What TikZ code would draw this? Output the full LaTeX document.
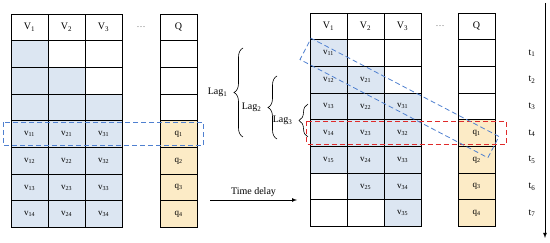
\documentclass[tikz,border=0pt]{standalone}
\usepackage{fontspec}
\setmainfont{Liberation Serif}
\usetikzlibrary{decorations.pathreplacing,calc}
\definecolor{cellblue}{HTML}{DCE6F2}
\definecolor{cellyellow}{HTML}{FCEBC6}
\definecolor{boxblue}{HTML}{4F80D0}
\definecolor{boxred}{HTML}{E02A2A}
\begin{document}
\begin{tikzpicture}[
    x=1pt, y=-1pt,
    >=latex,
    every node/.style={font=\normalsize},
    cell/.style={
        draw, line width=0.8pt,
        minimum width=37pt, minimum height=26.7pt,
        inner sep=0pt, font=\small
    },
    headcell/.style={cell, font=\normalsize},
    vcell/.style={cell, fill=cellblue},
    qcell/.style={cell, fill=cellyellow},
    dotslbl/.style={font=\small, text=black!60},
    lagbox/.style={line width=0.8pt, dash pattern=on 5pt off 3pt},
    lagbrace/.style={decorate, decoration={brace, amplitude=9pt}, line width=0.6pt}
]
\useasboundingbox (0,0) rectangle (550,243);

% =========================================================
% Linke Tabelle
% =========================================================
\foreach \c in {1,2,3}
    \node[headcell] (lv-0-\c) at ({11+37*(\c-0.5)}, 27.35) {V\textsubscript{\c}};
\node[headcell] (lq-0) at (178.5, 27.35) {Q};
\node[dotslbl] (ldots) at (141, 27.35) {\dots};

\foreach \r in {1,...,7}
    \foreach \c in {1,2,3} {
        \pgfmathtruncatemacro{\k}{\r-3}
        \ifnum\c>\r
            \node[cell] (lv-\r-\c) at ({11+37*(\c-0.5)}, {27.35+26.7*\r}) {};
        \else\ifnum\k<1
            \node[vcell] (lv-\r-\c) at ({11+37*(\c-0.5)}, {27.35+26.7*\r}) {};
        \else
            \node[vcell] (lv-\r-\c) at ({11+37*(\c-0.5)}, {27.35+26.7*\r}) {v\textsubscript{\c\k}};
        \fi\fi
    }

\foreach \r in {1,2,3}
    \node[cell] (lq-\r) at (178.5, {27.35+26.7*\r}) {};
\foreach \r in {4,...,7} {
    \pgfmathtruncatemacro{\k}{\r-3}
    \node[qcell] (lq-\r) at (178.5, {27.35+26.7*\r}) {q\textsubscript{\k}};
}

% Zeile t4 links
\draw[lagbox, boxblue] ($(lv-4-1.west)+(-7,-12)$) rectangle ($(lq-4.east)+(6,11.5)$);

% =========================================================
% Rechte Tabelle (verschoben)
% =========================================================
\foreach \c in {1,2,3}
    \node[headcell] (rv-0-\c) at ({310+37*(\c-0.5)}, 26.35) {V\textsubscript{\c}};
\node[headcell] (rq-0) at (476.5, 26.35) {Q};
\node[dotslbl] (rdots) at (440, 26.35) {\dots};

\foreach \r in {1,...,7}
    \foreach \c in {1,2,3} {
        \pgfmathtruncatemacro{\k}{\r-\c+1}
        \ifnum\k<1
            \node[cell] (rv-\r-\c) at ({310+37*(\c-0.5)}, {26.35+26.7*\r}) {};
        \else\ifnum\k>5
            \node[cell] (rv-\r-\c) at ({310+37*(\c-0.5)}, {26.35+26.7*\r}) {};
        \else
            \node[vcell] (rv-\r-\c) at ({310+37*(\c-0.5)}, {26.35+26.7*\r}) {v\textsubscript{\c\k}};
        \fi\fi
    }

\foreach \r in {1,2,3}
    \node[cell] (rq-\r) at (476.5, {26.35+26.7*\r}) {};
\foreach \r in {4,...,7} {
    \pgfmathtruncatemacro{\k}{\r-3}
    \node[qcell] (rq-\r) at (476.5, {26.35+26.7*\r}) {q\textsubscript{\k}};
}

% Zeitachse
\foreach \i in {1,...,7}
    \node (t\i) at (532, {26.35+26.7*\i}) {t\textsubscript{\i}};
\coordinate (tstart) at (545, 3);
\coordinate (tend) at (545, 238);
\draw[->, line width=0.8pt] (tstart) -- (tend);

% Markierungen
\draw[lagbox, boxred] ($(rv-4-1.west)+(-3,-12)$) rectangle ($(rq-4.east)+(11,11)$);
\node[lagbox, draw=boxblue, rotate=-27.6, minimum width=212pt, minimum height=24pt,
    inner sep=0pt] (diagbox) at (399.5, 98) {};

% =========================================================
% Lags und Zeitverschiebung
% =========================================================
\coordinate (lag1-b) at (243, 137);
\coordinate (lag1-t) at (243, 48);
\coordinate (lag2-b) at (277, 139);
\coordinate (lag2-t) at (277, 76);
\coordinate (lag3-b) at (308, 137);
\coordinate (lag3-t) at (308, 104);
\draw[lagbrace] (lag1-b) -- (lag1-t) node[midway, left=12pt] {Lag\textsubscript{1}};
\draw[lagbrace] (lag2-b) -- (lag2-t) node[midway, left=12pt] {Lag\textsubscript{2}};
\draw[lagbrace] (lag3-b) -- (lag3-t) node[midway, left=12pt] {Lag\textsubscript{3}};

\coordinate (delay-a) at (210, 200);
\coordinate (delay-b) at (297, 200);
\draw[->, line width=0.7pt] (delay-a) -- (delay-b) node[midway, above] {Time delay};

\end{tikzpicture}
\end{document}
